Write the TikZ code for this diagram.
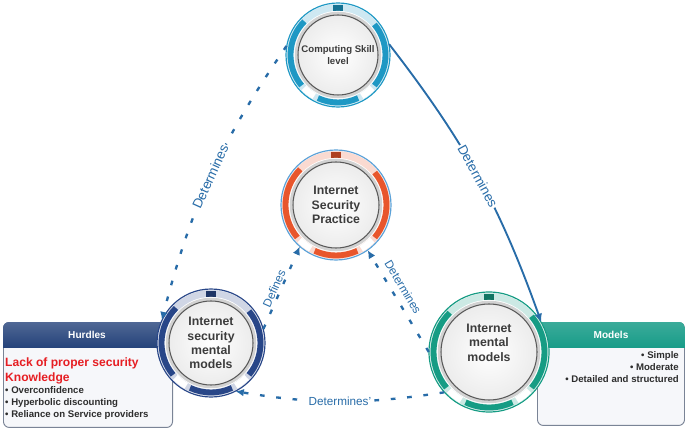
\documentclass[tikz,border=0pt]{standalone}
\usepackage{fontspec}
\setmainfont{Liberation Sans}
\usetikzlibrary{arrows.meta}

\begin{document}
\begin{tikzpicture}[x=0.03cm, y=0.03cm, >={Latex[length=7pt, width=6.5pt]},
  panel/.style={draw=PanelEdge, fill=Panel, rounded corners=5pt, line width=0.8pt, anchor=north west, inner sep=0pt},
  paneltitle/.style={text=white, font=\bfseries\fontsize{8.6}{10}\selectfont},
  bullets/.style={text=ListText, font=\bfseries\fontsize{8.2}{10.2}\selectfont, inner sep=0pt},
  hub/.style={circle, minimum size=#1*1.7072pt, inner sep=0pt, align=center, text=HubText, font=\bfseries\fontsize{10.5}{12.2}\selectfont},
  flow/.style={->, draw=Flow, line width=1.6pt},
  dashflow/.style={flow, line width=2pt, dash pattern=on 4pt off 10pt},
  flowlabel/.style={text=Flow, font=\fontsize{10}{12}\selectfont, inner sep=1pt}]

\definecolor{Flow}{RGB}{40,108,168}
\definecolor{Skill}{RGB}{30,152,196}
\definecolor{Practice}{RGB}{232,86,44}
\definecolor{PracticeRim}{RGB}{92,162,216}
\definecolor{SecModel}{RGB}{40,70,136}
\definecolor{Mental}{RGB}{22,156,132}
\definecolor{HurdleHead}{RGB}{36,66,122}
\definecolor{ModelHead}{RGB}{24,156,136}
\definecolor{Panel}{RGB}{246,247,250}
\definecolor{PanelEdge}{RGB}{122,132,150}
\definecolor{Alert}{RGB}{230,30,35}
\definecolor{HubText}{RGB}{60,60,60}
\definecolor{ListText}{RGB}{45,45,45}

\useasboundingbox (0,0) rectangle (685,-433);

% side panels
\node[panel, minimum width=144.3pt, minimum height=89.6pt] (hurdles) at (3,-322) {};
\begin{scope}
  \clip[rounded corners=5pt] (hurdles.north west) rectangle (hurdles.south east);
  \shade[top color=HurdleHead!80!white, bottom color=HurdleHead] (hurdles.north west) rectangle ([yshift=-22pt]hurdles.north east);
\end{scope}
\node[paneltitle] (hurdlestitle) at (87,-335) {Hurdles};
\node[anchor=north west, inner sep=0pt, align=left, text=Alert, font=\bfseries\fontsize{10.3}{12}\selectfont] (lack) at (5,-358) {Lack of proper security\\Knowledge};
\node[bullets, anchor=north west, align=left] (hurdlelist) at (5,-386.5) {\textbullet\ Overconfidence\\\textbullet\ Hyperbolic discounting\\\textbullet\ Reliance on Service providers};

\node[panel, minimum width=125.5pt, minimum height=87.9pt] (models) at (537,-322) {};
\begin{scope}
  \clip[rounded corners=5pt] (models.north west) rectangle (models.south east);
  \shade[top color=ModelHead!85!white, bottom color=ModelHead] (models.north west) rectangle ([yshift=-22pt]models.north east);
\end{scope}
\node[paneltitle] (modelstitle) at (611,-335) {Models};
\node[bullets, anchor=north east, align=right] (modellist) at (679,-351) {\textbullet\ Simple\\\textbullet\ Moderate\\\textbullet\ Detailed and structured};

% rings
\foreach \cx/\cy/\r/\col/\rim in {338/55/52/Skill/Skill, 336/205/55/Practice/PracticeRim, 211/343/54/SecModel/SecModel, 489/352/60/Mental/Mental} {
  \begin{scope}[shift={(\cx,-\cy)}]
    \fill[white] (0,0) circle[radius=\r];
    \fill[\col!22] (0,0) circle[radius=\r-1];
    \foreach \a/\b in {135/220, 245/295, -40/40}
      \draw[\col, line width=5pt] ({\a}:{\r-4.5}) arc[start angle=\a, end angle=\b, radius=\r-4.5];
    \foreach \a/\b in {224/240, 300/316}
      \draw[white, line width=5.5pt] ({\a}:{\r-4.5}) arc[start angle=\a, end angle=\b, radius=\r-4.5];
    \fill[\col!75!black] (-5,{\r-8}) rectangle (5,{\r-2});
    \draw[\rim, line width=1pt] (0,0) circle[radius=\r];
    \draw[white, line width=1pt] (0,0) circle[radius=\r-8.5];
    \draw[gray!35, line width=3pt] (0,0) circle[radius=\r-10.5];
    \shadedraw[inner color=white, outer color=gray!15, draw=gray!70!black, line width=0.9pt] (0,0) circle[radius=\r-12];
  \end{scope}
}

\node[hub=52, font=\bfseries\fontsize{8.2}{10.5}\selectfont] (skill) at (338,-55) {Computing Skill\\level};
\node[hub=55] (practice) at (336,-205) {Internet\\Security\\Practice};
\node[hub=54] (secmodel) at (211,-343) {Internet\\security\\mental\\models};
\node[hub=60] (mental) at (489,-352) {Internet\\mental\\models\\[4pt]};

% connectors
\draw[dashflow] (skill.170) to[bend right=10] node[flowlabel, sloped, fill=white, font=\fontsize{11.5}{13}\selectfont] {Determines} (secmodel.155);
\draw[flow] (skill.12) to[bend left=9] node[flowlabel, sloped, fill=white, font=\fontsize{11.5}{13}\selectfont] {Determines} (mental.30);
\draw[dashflow] (secmodel.15) -- node[flowlabel, sloped, above, pos=0.46] {Defines} (practice.229);
\draw[dashflow] (mental.180) -- node[flowlabel, sloped, above=4pt, pos=0.58] {Determines} (practice.305);
\draw[dashflow] (mental.222) to[bend left=9] node[flowlabel, fill=white] {Determines'} (secmodel.297);

\end{tikzpicture}
\end{document}
